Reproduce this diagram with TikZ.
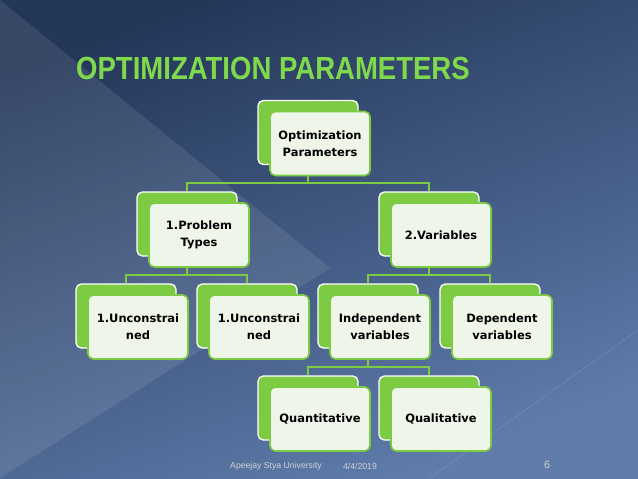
\documentclass[tikz,border=0pt]{standalone}
\usepackage{fontspec}
\setmainfont{Liberation Sans}
\newfontfamily\boxfont{DejaVu Sans}
\usetikzlibrary{shadows,calc}
\definecolor{bgtop}{HTML}{243759}
\definecolor{bgbot}{HTML}{5F7CAB}
\definecolor{gr}{HTML}{7CCB42}
\definecolor{frontc}{HTML}{EEF6EA}
\definecolor{titlec}{HTML}{80D94C}
\tikzset{
  back/.style={draw=white,line width=1pt,fill=gr,rounded corners=4pt,minimum width=75pt,minimum height=48pt,inner sep=0pt},
  front/.style={draw=gr,line width=1.2pt,fill=frontc,rounded corners=4pt,minimum width=75pt,minimum height=48pt,inner sep=1pt,align=center,font=\boxfont\fontsize{8.6}{12.5}\selectfont\bfseries,drop shadow={opacity=0.25,shadow xshift=1pt,shadow yshift=-1pt}},
  conn/.style={draw=gr,line width=1pt},
  foot/.style={text=gray!35,font=\fontsize{6.5}{8}\selectfont}
}
\newcommand\bx[4]{\node[back] (#1b) at (#2,#3) {}; \node[front] (#1) at ($(#1b)+(12,11)$) {#4};}
\begin{document}
\begin{tikzpicture}[x=0.75pt,y=-0.75pt]
\useasboundingbox (0,0) rectangle (638,478);
\shade[top color=bgtop,bottom color=bgbot,shading angle=20] (0,0) rectangle (638,478);
\fill[white,opacity=0.09] (0,0) -- (330,268) -- (0,478) -- cycle;
\draw[white,opacity=0.15] (430,478) -- (638,330);
\node[text=titlec,font=\fontsize{24}{28}\selectfont\bfseries,anchor=west,xscale=0.86,inner sep=0pt] (title) at (76,68) {OPTIMIZATION PARAMETERS};
\coordinate (bus1) at (0,183);
\coordinate (bus2) at (0,275);
\coordinate (bus3) at (0,367);
\bx{root}{308}{132.5}{Optimization\\Parameters}
\bx{pt}{187}{224}{1.Problem\\Types}
\bx{var}{429}{224}{2.Variables}
\bx{ua}{126}{316}{1.Unconstrai\\ned}
\bx{ub}{247}{316}{1.Unconstrai\\ned}
\bx{ind}{368}{316}{Independent\\variables}
\bx{dep}{490}{316}{Dependent\\variables}
\bx{qn}{308}{408}{Quantitative}
\bx{ql}{429}{408}{Qualitative}
\draw[conn] (rootb |- root.south) -- (rootb |- bus1);
\draw[conn] (ptb.north) |- (rootb |- bus1) -| (varb.north);
\draw[conn] (ptb |- pt.south) -- (ptb |- bus2);
\draw[conn] (uab.north) |- (ptb |- bus2) -| (ubb.north);
\draw[conn] (varb |- var.south) -- (varb |- bus2);
\draw[conn] (indb.north) |- (varb |- bus2) -| (depb.north);
\draw[conn] (indb |- ind.south) -- (indb |- bus3);
\draw[conn] (qnb.north) |- (indb |- bus3) -| (qlb.north);
\node[foot] (f1) at (276,466) {Apeejay Stya University};
\node[foot] (f2) at (360,466) {4/4/2019};
\node[foot,font=\fontsize{8}{9}\selectfont] (f3) at (547,465) {6};
\end{tikzpicture}
\end{document}
